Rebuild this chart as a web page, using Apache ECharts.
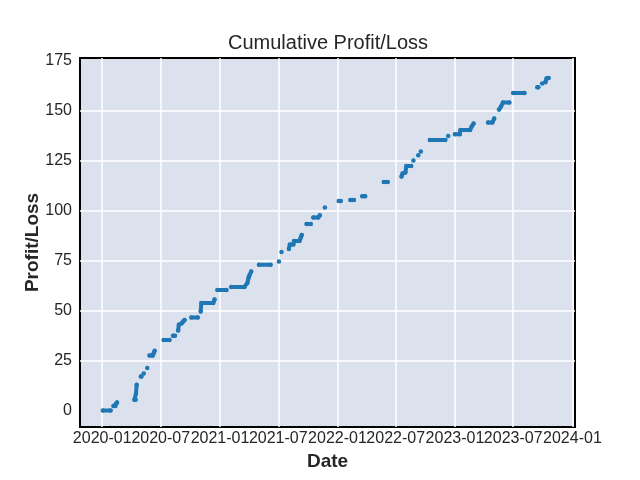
<!DOCTYPE html>
<html>
<head>
<meta charset="utf-8">
<script src="https://cdn.jsdelivr.net/npm/echarts@6/dist/echarts.min.js"></script>
<style>html,body{margin:0;padding:0;background:#fff}#c{width:640px;height:480px}</style>
</head>
<body>
<div id="c"></div>
<script>
// Daily cumulative P/L points; null marks a gap between trading runs
const dates = [
  '2020-01-03','2020-01-27',null,
  '2020-02-05','2020-02-11','2020-02-14','2020-02-16',null,
  '2020-04-10','2020-04-14','2020-04-15','2020-04-17',null,
  '2020-04-30','2020-05-02',null,
  '2020-05-09',null,
  '2020-05-20',null,
  '2020-05-27','2020-06-06','2020-06-09','2020-06-12',null,
  '2020-07-10','2020-07-28',null,
  '2020-08-08','2020-08-14',null,
  '2020-08-24','2020-08-26','2020-09-04','2020-09-08','2020-09-13',null,
  '2020-10-04','2020-10-24',null,
  '2020-11-02','2020-11-04','2020-12-11','2020-12-15',null,
  '2020-12-24','2021-01-21',null,
  '2021-02-05','2021-03-18','2021-03-27','2021-03-31','2021-04-03','2021-04-08',null,
  '2021-05-02','2021-06-07',null,
  '2021-07-03',null,
  '2021-07-11',null,
  '2021-08-03','2021-08-06','2021-08-17','2021-08-19','2021-09-05','2021-09-09','2021-09-12',null,
  '2021-09-27','2021-10-10',null,
  '2021-10-18','2021-11-02','2021-11-07',null,
  '2021-11-23',null,
  '2022-01-05','2022-01-11',null,
  '2022-02-10','2022-02-21',null,
  '2022-03-19','2022-03-28',null,
  '2022-05-25','2022-06-06',null,
  '2022-07-19','2022-07-22','2022-07-31','2022-08-03','2022-08-18',null,
  '2022-08-25',null,
  '2022-09-09',null,
  '2022-09-17',null,
  '2022-10-15','2022-12-02',null,
  '2022-12-11',null,
  '2023-01-01','2023-01-16','2023-01-18','2023-02-17','2023-02-22','2023-02-28',null,
  '2023-04-14','2023-04-27','2023-05-03',null,
  '2023-05-18','2023-05-24','2023-05-30','2023-06-19',null,
  '2023-07-01','2023-08-05',null,
  '2023-09-14','2023-09-17',null,
  '2023-09-29',null,
  '2023-10-09','2023-10-13','2023-10-19'
];
const profit = [
  0,0,null,
  2.2,2.2,3.5,4,null,
  5.3,5.3,8.5,12.8,null,
  17,17,null,
  18.5,null,
  21.2,null,
  27.5,27.5,28.6,29.8,null,
  35.2,35.2,null,
  37.3,37.3,null,
  40,42.8,43.6,44.5,45.2,null,
  46.5,46.5,null,
  49.5,53.7,53.7,55.5,null,
  60.2,60.2,null,
  61.8,61.8,63.8,66.5,67.8,69.5,null,
  72.9,72.9,null,
  74.5,null,
  79.2,null,
  80.8,83,83,84.8,84.8,86.5,87.8,null,
  93.3,93.3,null,
  96.5,96.5,97.6,null,
  101.5,null,
  104.8,104.8,null,
  105.3,105.3,null,
  107.2,107.2,null,
  114.3,114.3,null,
  117,118.5,119,122.3,122.3,null,
  125,null,
  127.7,null,
  129.5,null,
  135.3,135.3,null,
  137.3,null,
  138.2,138.2,140.3,140.3,142,143.5,null,
  144,144,146,null,
  150.5,152,154,154,null,
  158.8,158.8,null,
  161.7,161.7,null,
  163.5,null,
  164.2,166.2,166.3
];
const yTicks = [0, 25, 50, 75, 100, 125, 150, 175];
const titleText = 'Cumulative Profit/Loss';
const xName = 'Date';
const yName = 'Profit/Loss';

const DAY = 86400000;
const seriesData = dates.map((d, i) => d === null ? [dates[i-1], '-'] : [d, profit[i]]);
const FONT = '"Liberation Sans", Arial, sans-serif';
const TXT = '#262626';

const chart = echarts.init(document.getElementById('c'), null, {renderer: 'canvas'});
chart.setOption({
  animation: false,
  backgroundColor: '#ffffff',
  textStyle: {fontFamily: FONT},
  title: {
    text: titleText, left: 223, top: 28,
    textStyle: {fontFamily: FONT, fontSize: 20, fontWeight: 'normal', color: TXT}
  },
  grid: {
    left: 80, right: 65, top: 58, bottom: 53,
    show: true, backgroundColor: '#dce2ed', borderColor: '#000', borderWidth: 2,
    containLabel: false, outerBoundsMode: 'none'
  },
  xAxis: {
    type: 'time',
    min: new Date(2019, 9, 24).getTime(),
    max: new Date(2024, 0, 9).getTime(),
    splitNumber: 8,
    minInterval: 183 * DAY,
    maxInterval: 184 * DAY,
    name: xName, nameLocation: 'middle', nameGap: 25, nameMoveOverlap: false,
    nameTextStyle: {fontFamily: FONT, fontSize: 19, fontWeight: 'bold', color: TXT},
    axisLine: {show: false}, axisTick: {show: false},
    axisLabel: {
      fontFamily: FONT, fontSize: 16, color: TXT, margin: 4, hideOverlap: false,
      showMinLabel: false, showMaxLabel: false,
      formatter: function (v) {
        const d = new Date(v);
        if (d.getDate() !== 1 || (d.getMonth() !== 0 && d.getMonth() !== 6)) return '';
        return d.getFullYear() + '-' + String(d.getMonth() + 1).padStart(2, '0');
      }
    },
    splitLine: {show: true, showMinLine: false, showMaxLine: false, lineStyle: {color: '#ffffff', width: 1.5}}
  },
  yAxis: {
    type: 'value',
    min: -8.3, max: 176.3,
    name: yName, nameLocation: 'middle', nameGap: 38, nameRotate: 90, nameMoveOverlap: false,
    nameTextStyle: {fontFamily: FONT, fontSize: 19, fontWeight: 'bold', color: TXT},
    axisLine: {show: false},
    axisTick: {show: false, customValues: yTicks},
    axisLabel: {
      fontFamily: FONT, fontSize: 16, color: TXT, margin: 8,
      customValues: yTicks,
      formatter: function (v) { return yTicks.indexOf(v) >= 0 ? String(v) : ''; }
    },
    splitLine: {show: true, showMinLine: false, showMaxLine: false, lineStyle: {color: '#ffffff', width: 1.5}}
  },
  series: [{
    type: 'line',
    data: seriesData,
    connectNulls: false,
    showSymbol: true,
    symbol: 'circle',
    symbolSize: 4.5,
    itemStyle: {color: '#1f77b4', borderWidth: 0},
    lineStyle: {color: '#1f77b4', width: 4, cap: 'round', join: 'round'},
    emphasis: {disabled: true}
  }]
});
</script>
</body>
</html>
